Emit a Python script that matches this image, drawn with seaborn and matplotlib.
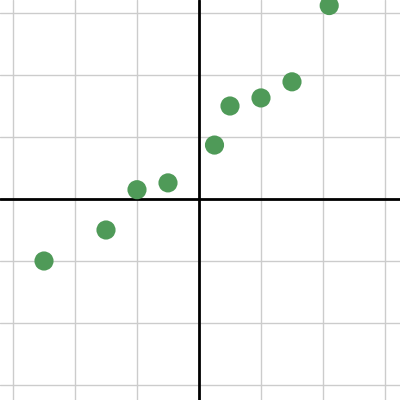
import matplotlib
matplotlib.use("Agg")
import matplotlib.pyplot as plt
import seaborn as sns
import numpy as np

# data (one grid square = 1 unit)
x_vals = [-2.5, -1.5, -1.0, -0.5, 0.25, 0.5, 1.0, 1.5, 2.1]
y_vals = [-1.0, -0.5, 0.15, 0.26, 0.87, 1.5, 1.63, 1.89, 3.12]

sns.set_style("white")
fig = plt.figure(figsize=(4, 4), dpi=100)
ax = fig.add_axes([0, 0, 1, 1])

scale = 62.0
ax.set_xlim(-199 / scale, 201 / scale)
ax.set_ylim(-201 / scale, 199 / scale)

for v in np.arange(-3, 4):
    ax.axvline(v, color="#cccccc", linewidth=1, zorder=0)
    ax.axhline(v, color="#cccccc", linewidth=1, zorder=0)
ax.axvline(0, color="black", linewidth=2, zorder=1)
ax.axhline(0, color="black", linewidth=2, zorder=1)

sns.scatterplot(x=x_vals, y=y_vals, ax=ax, color="#4f9a58", s=190,
                edgecolor="none", zorder=3)

ax.set_xticks([])
ax.set_yticks([])
for s in ax.spines.values():
    s.set_visible(False)

fig.savefig("out.png", dpi=100)
